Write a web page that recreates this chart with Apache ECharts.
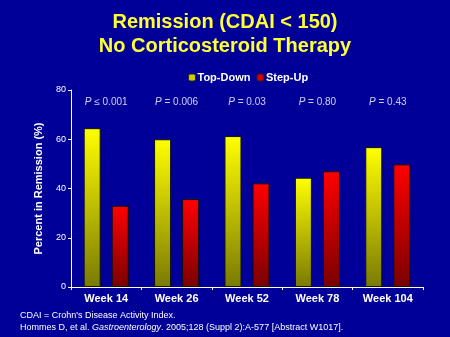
<!DOCTYPE html>
<html><head><meta charset="utf-8">
<script src="https://cdn.jsdelivr.net/npm/echarts@6/dist/echarts.min.js"></script>
<style>html,body{margin:0;padding:0;background:#000099;}#c{width:450px;height:337px;}</style>
</head><body><div id="c"></div>
<script>
var categories = ['Week 14', 'Week 26', 'Week 52', 'Week 78', 'Week 104'];
var topDown = [64.5, 60, 61.3, 44.4, 56.8];
var stepUp = [33, 35.7, 42.1, 47, 49.8];
var pLabels = ['≤ 0.001', '= 0.006', '= 0.03', '= 0.80', '= 0.43'];
var pLabelY = [75, 75, 75, 75, 75];
var yTicks = [0, 20, 40, 60, 80];

var chart = echarts.init(document.getElementById('c'), null, {renderer: 'canvas'});
function grad(top, bottom) {
  return new echarts.graphic.LinearGradient(0, 0, 0, 1, [{offset: 0, color: top}, {offset: 1, color: bottom}]);
}
chart.setOption({
  backgroundColor: '#000099',
  animation: false,
  title: {
    text: 'Remission (CDAI < 150)\nNo Corticosteroid Therapy',
    left: 'center', top: 5,
    textStyle: {color: '#ffff33', fontFamily: 'Liberation Sans, Arial', fontWeight: 'bold', fontSize: 20, lineHeight: 24}
  },
  legend: {
    top: 67, left: 183,
    itemWidth: 7, itemHeight: 7, itemGap: 6,
    data: [{name: 'Top-Down', itemStyle: {color: '#cccc00', borderColor: '#222', borderWidth: 1}},
           {name: 'Step-Up', itemStyle: {color: '#cc0000', borderColor: '#222', borderWidth: 1}}],
    textStyle: {color: '#ffffff', fontFamily: 'Liberation Sans, Arial', fontWeight: 'bold', fontSize: 11, padding: [0, 0, 0, -3]}
  },
  grid: {left: 71, right: 27, top: 90, bottom: 50},
  xAxis: {
    type: 'category', data: categories,
    axisLine: {lineStyle: {color: '#ffffff', width: 1}},
    axisTick: {show: true, inside: false, length: 3, lineStyle: {color: '#ffffff'}},
    axisLabel: {color: '#ffffff', fontFamily: 'Liberation Sans, Arial', fontWeight: 'bold', fontSize: 11, margin: 6}
  },
  yAxis: {
    type: 'value', min: yTicks[0], max: yTicks[yTicks.length - 1], interval: 20,
    name: 'Percent in Remission (%)', nameLocation: 'middle', nameGap: 27,
    nameTextStyle: {color: '#ffffff', fontFamily: 'Liberation Sans, Arial', fontWeight: 'bold', fontSize: 11},
    axisLine: {show: true, lineStyle: {color: '#ffffff'}},
    axisTick: {show: true, length: 3, lineStyle: {color: '#ffffff'}},
    axisLabel: {color: '#ffffff', fontFamily: 'Liberation Sans, Arial', fontSize: 9, margin: 5},
    splitLine: {show: false}
  },
  series: [
    {name: 'Top-Down', type: 'bar', data: topDown, barWidth: 17, barGap: '65%',
     itemStyle: {color: grad('#ffff00', '#7a7a05'), borderColor: '#111', borderWidth: 1}},
    {name: 'Step-Up', type: 'bar', data: stepUp, barWidth: 17,
     itemStyle: {color: grad('#ff0000', '#7a0000'), borderColor: '#111', borderWidth: 1}},
    {name: 'p', type: 'scatter', data: pLabelY, symbolSize: 0, silent: true,
     label: {show: true, position: 'inside',
       formatter: function (p) { return '{i|P} ' + pLabels[p.dataIndex]; },
       color: '#ffffff', fontFamily: 'Liberation Sans, Arial', fontSize: 10,
       rich: {i: {fontStyle: 'italic', color: '#ffffff', fontFamily: 'Liberation Sans, Arial', fontSize: 10}}}}
  ],
  graphic: [
    {type: 'text', left: 20, top: 311, style: {text: "CDAI = Crohn's Disease Activity Index.", fill: '#ffffff', font: '9px Liberation Sans, Arial'}},
    {type: 'text', left: 20, top: 323, style: {
      text: '{n|Hommes D, et al. }{i|Gastroenterology}{n|. 2005;128 (Suppl 2):A-577 [Abstract W1017].}',
      rich: {n: {fill: '#ffffff', font: '9px Liberation Sans, Arial'}, i: {fill: '#ffffff', font: 'italic 9px Liberation Sans, Arial'}}}}
  ]
});
</script></body></html>
